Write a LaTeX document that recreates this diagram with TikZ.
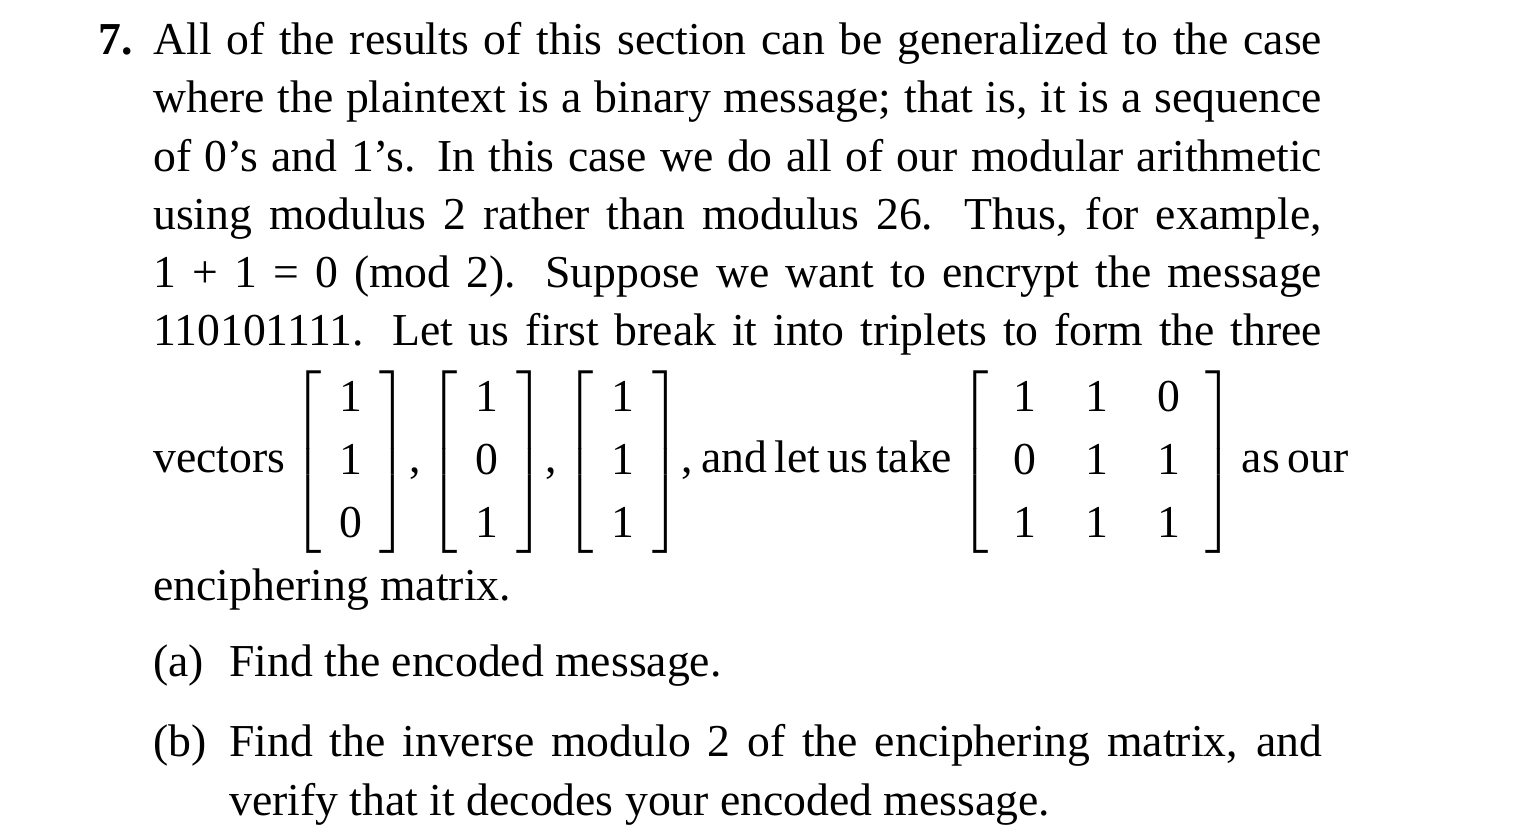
\documentclass[tikz,border=0pt]{standalone}
\usepackage{amsmath}
\usepackage{fontspec}
\setmainfont{Liberation Serif}
\tikzset{ln/.style={anchor=base west,inner sep=0pt,font=\fontsize{26}{31}\selectfont}}
\newcommand\jl[2]{\hbox to #1{#2}}
\newcommand\mymat[2]{$\left[\vcenter{\hbox{\setlength\tabcolsep{#1}\renewcommand\arraystretch{1.16}\begin{tabular}{ccc}#2\end{tabular}}}\right]$}
\begin{document}
\begin{tikzpicture}[x=0.02cm,y=-0.02cm]
\useasboundingbox (0,0) rectangle (1529,837);
\node[ln] (n) at (98,55) {\textbf{7.}};
\node[ln] (l1) at (153,55) {\jl{23.38cm}{All of the results of this section can be generalized to the case}};
\node[ln] (l2) at (153,113) {\jl{23.38cm}{where the plaintext is a binary message; that is, it is a sequence}};
\node[ln] (l3) at (153,172) {\jl{23.38cm}{of 0’s and 1’s. In this case we do all of our modular arithmetic}};
\node[ln] (l4) at (153,230) {\jl{23.38cm}{using modulus 2 rather than modulus 26. Thus, for example,}};
\node[ln] (l5) at (153,288) {\jl{23.38cm}{1 + 1 = 0 (mod 2). Suppose we want to encrypt the message}};
\node[ln] (l6) at (153,346) {\jl{23.38cm}{110101111. Let us first break it into triplets to form the three}};
\node[ln] (l7) at (153,473) {\jl{23.38cm}{vectors \mymat{10pt}{1\\1\\0}, \mymat{10pt}{1\\0\\1}, \mymat{10pt}{1\\1\\1}, and let us take \mymat{14pt}{1&1&0\\0&1&1\\1&1&1} as our}};
\node[ln] (l8) at (153,601) {enciphering matrix.};
\node[ln] (a) at (153,677) {(a)};
\node[ln] (at) at (229,677) {Find the encoded message.};
\node[ln] (b) at (153,757) {(b)};
\node[ln] (bt) at (229,757) {\jl{21.86cm}{Find the inverse modulo 2 of the enciphering matrix, and}};
\node[ln] (bt2) at (229,815) {verify that it decodes your encoded message.};
\end{tikzpicture}
\end{document}
